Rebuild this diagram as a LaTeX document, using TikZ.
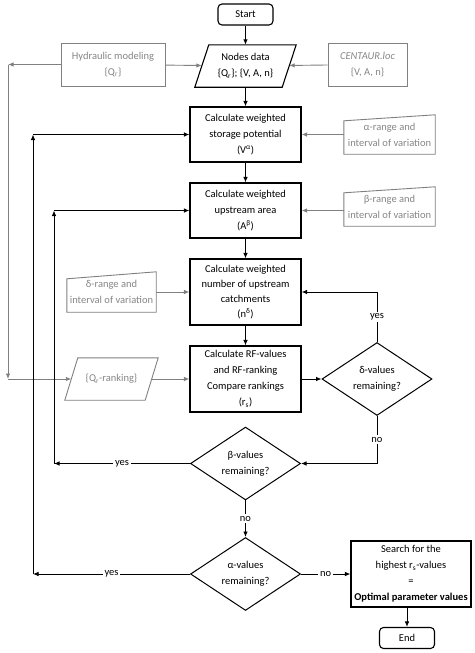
\documentclass[tikz,border=0pt]{standalone}
\usepackage{fontspec}
\setmainfont{Carlito}
\usetikzlibrary{arrows.meta,shapes.geometric}
\definecolor{gline}{gray}{0.5}
\definecolor{gtext}{gray}{0.52}

\begin{document}
\begin{tikzpicture}[x=1pt,y=-1pt,
  >={Latex[length=5.5pt,width=4.5pt]},
  txt/.style={align=center,inner sep=0pt,font=\fontsize{10.5}{16}\selectfont},
  term/.style={txt,draw,line width=1.1pt,rounded corners=4pt,minimum width=55,minimum height=21},
  proc/.style={txt,draw,line width=1.1pt,minimum width=111,minimum height=55},
  decis/.style={txt,draw,diamond,line width=1pt,minimum width=110,minimum height=68},
  gbox/.style={txt,draw=gline,line width=0.9pt,text=gtext,minimum width=104,minimum height=43},
  gin/.style={txt,text=gtext,minimum width=91,minimum height=39},
  flow/.style={->,line width=0.9pt},
  gflow/.style={->,line width=0.9pt,draw=gline},
  lbl/.style={txt,fill=white,inner sep=2pt}]
\useasboundingbox (0,0) rectangle (474,653);

\node[term] (start) at (245.5,14.5) {Start};
\node[txt,minimum width=87,minimum height=42] (nd) at (245.5,66) {Nodes data\\\{Q\textsubscript{r}\}; \{V, A, n\}};
\draw[line width=1.1pt] ([xshift=7]nd.north west) -- ([xshift=7]nd.north east) -- ([xshift=-7]nd.south east) -- ([xshift=-7]nd.south west) -- cycle;
\node[gbox] (hyd) at (113,64.5) {Hydraulic modeling\\\{Q\textsubscript{r}\}};
\node[gbox,minimum width=79] (cent) at (367.5,64.5) {\textit{CENTAUR.loc}\\\{V, A, n\}};

\node[proc] (calcV) at (245.5,134.5) {Calculate weighted\\storage potential\\(V\textsuperscript{α})};
\node[proc] (calcA) at (245.5,210.5) {Calculate weighted\\upstream area\\(A\textsuperscript{β})};
\node[proc,minimum height=66,font=\fontsize{10.5}{15}\selectfont] (calcN) at (245.5,292) {Calculate weighted\\number of upstream\\catchments\\(n\textsuperscript{δ})};
\node[proc,minimum height=66] (calcRF) at (245.5,379) {Calculate RF-values\\and RF-ranking\\Compare rankings\\(r\textsubscript{s})};

\node[gin] (ain) at (389.5,134.5) {α-range and\\interval of variation};
\draw[gline,line width=0.9pt] ([yshift=-6]ain.north west) -- (ain.north east) -- (ain.south east) -- (ain.south west) -- cycle;
\node[gin] (bin) at (389.5,206.5) {β-range and\\interval of variation};
\draw[gline,line width=0.9pt] ([yshift=-6]bin.north west) -- (bin.north east) -- (bin.south east) -- (bin.south west) -- cycle;
\node[gin,minimum width=89,minimum height=40] (din) at (111.5,292) {δ-range and\\interval of variation};
\draw[gline,line width=0.9pt] ([yshift=-7]din.north west) -- (din.north east) -- (din.south east) -- (din.south west) -- cycle;
\node[gin,minimum width=80,minimum height=42] (qrank) at (111.5,379) {\{Q\textsubscript{r}-ranking\}};
\draw[gline,line width=0.9pt] ([xshift=6.5]qrank.north west) -- ([xshift=6.5]qrank.north east) -- ([xshift=-6.5]qrank.south east) -- ([xshift=-6.5]qrank.south west) -- cycle;

\node[decis] (dDelta) at (377,379) {δ-values\\remaining?};
\node[decis,minimum height=69] (dBeta) at (245.5,463.5) {β-values\\remaining?};
\node[decis] (dAlpha) at (245.5,574) {α-values\\remaining?};
\node[txt,draw,line width=1.1pt,minimum width=120,minimum height=66] (search) at (411,574) {Search for the\\highest r\textsubscript{s}-values\\=\\\textbf{Optimal parameter values}};
\node[term] (finish) at (407,638) {End};

\coordinate (hc1) at (8,64.5);
\coordinate (hc2) at (8,379);
\coordinate (yd) at (377,292);
\coordinate (nd1) at (377,463.5);
\coordinate (bc1) at (54,463.5);
\coordinate (bc2) at (54,210.5);
\coordinate (ac1) at (33,574);
\coordinate (ac2) at (33,134.5);

\draw[flow] (start) -- (nd);
\draw[flow] (nd) -- (calcV);
\draw[flow] (calcV) -- (calcA);
\draw[flow] (calcA) -- (calcN);
\draw[flow] (calcN) -- (calcRF);
\draw[flow] (calcRF) -- (dDelta);

\draw[gflow] (hyd) -- (nd);
\draw[gflow] (cent) -- (nd);
\draw[gflow] (ain) -- (calcV);
\draw[gflow] (bin.west |- calcA.east) -- (calcA.east);
\draw[gflow] (din) -- (calcN);
\draw[gflow] (qrank) -- (calcRF);
\draw[gflow] (hyd) -- (hc1);
\draw[gflow] (hc1) -- (hc2);
\draw[gflow] (hc2) -- (qrank);

\draw[flow] (dDelta.north) -- node[lbl] {yes} (yd) -- (calcN.east);
\draw[flow] (dDelta.south) -- node[lbl] {no} (nd1) -- (dBeta.east);
\draw[flow] (dBeta.west) -- node[lbl] {yes} (bc1);
\draw[flow] (bc1) -- (bc2);
\draw[flow] (bc2) -- (calcA.west);
\draw[flow] (dBeta.south) -- node[lbl] {no} (dAlpha.north);
\draw[flow] (dAlpha.west) -- node[lbl] {yes} (ac1);
\draw[flow] (ac1) -- (ac2);
\draw[flow] (ac2) -- (calcV.west);
\draw[flow] (dAlpha.east) -- node[lbl] {no} (search.west);
\draw[flow] (finish.north |- search.south) -- (finish.north);
\end{tikzpicture}
\end{document}
